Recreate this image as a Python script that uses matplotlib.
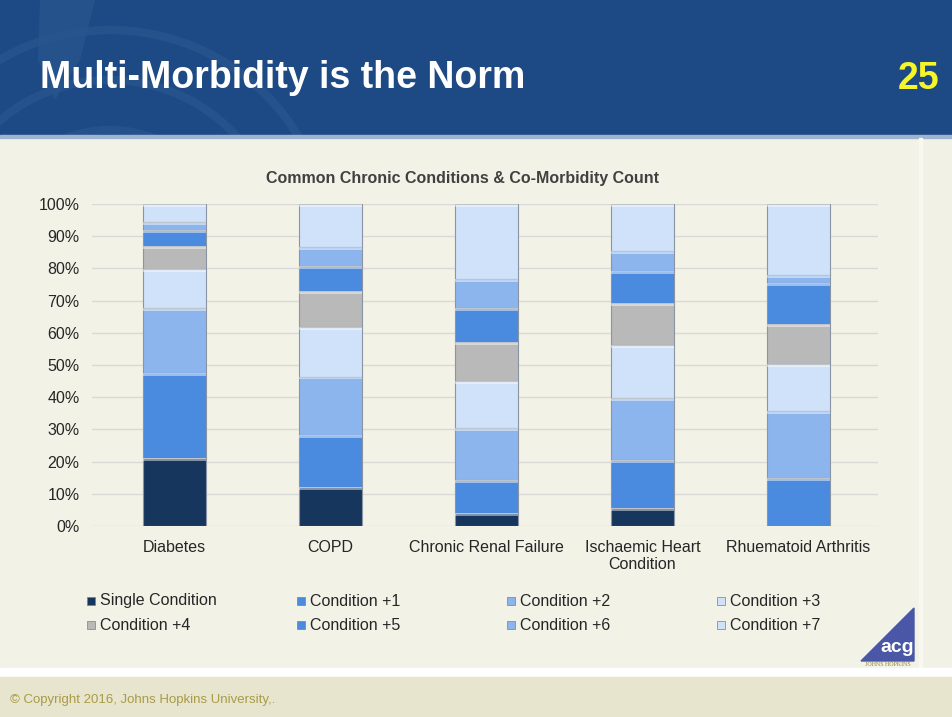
import matplotlib.pyplot as plt
from matplotlib.patches import Rectangle, Polygon, Arc
import numpy as np

plt.rcParams['font.family'] = ['Liberation Sans', 'DejaVu Sans']

# Data (percent of patients)
conditions = ["Diabetes", "COPD", "Chronic Renal Failure",
              "Ischaemic Heart\nCondition", "Rhuematoid Arthritis"]
series_names = ["Single Condition", "Condition +1", "Condition +2", "Condition +3",
                "Condition +4", "Condition +5", "Condition +6", "Condition +7"]
single = [21.0, 12.2, 3.9, 5.5, 0.0]
plus1 = [26.4, 16.1, 10.4, 15.0, 15.0]
plus2 = [20.2, 18.1, 16.2, 19.2, 20.7]
plus3 = [12.2, 15.5, 14.5, 16.5, 14.5]
plus4 = [7.2, 11.1, 12.2, 13.0, 12.4]
plus5 = [4.9, 7.8, 10.4, 10.0, 12.8]
plus6 = [2.6, 5.9, 9.1, 6.2, 2.5]
plus7 = [5.5, 13.3, 23.3, 14.6, 22.1]
y_ticks = [0, 10, 20, 30, 40, 50, 60, 70, 80, 90, 100]

series = [single, plus1, plus2, plus3, plus4, plus5, plus6, plus7]
colors = ["#17365D", "#4A8ADF", "#8CB5EE", "#CFE2FA",
          "#B9B9B9", "#4A8ADF", "#8CB5EE", "#CFE2FA"]

W, H = 953, 717
fig = plt.figure(figsize=(W / 100, H / 100), dpi=100)
fig.patch.set_facecolor("#F2F1E5")

# slide background elements (pixel coordinates)
bg = fig.add_axes([0, 0, 1, 1])
bg.set_xlim(0, W)
bg.set_ylim(H, 0)
bg.axis("off")
header = Rectangle((0, 0), W, 135, color="#1D4A84", zorder=1)
bg.add_patch(header)
# faint globe watermark in the header
for r in [120, 170, 220]:
    a = Arc((110, 250), 2 * r, 2 * r, color="#2A5690", lw=6, alpha=0.7, zorder=1.5)
    bg.add_patch(a)
    a.set_clip_path(header)
flame = Polygon([[40, 0], [95, 0], [80, 60], [55, 100], [38, 60]], closed=True,
                color="#2A5690", alpha=0.7, zorder=1.5, lw=0)
bg.add_patch(flame)
bg.add_patch(Rectangle((0, 135), W, 3, color="#9DB3CF", zorder=2))
bg.add_patch(Rectangle((0, 138), 920, 530, color="#F3F2E7", zorder=1))
bg.add_patch(Rectangle((919, 138), 3, 530, color="#F9F8F0", zorder=2))
bg.add_patch(Rectangle((0, 668), W, 9, color="#FFFFFF", zorder=2))
bg.add_patch(Rectangle((0, 677), W, 40, color="#E7E5CD", zorder=2))
bg.text(40, 78, "Multi-Morbidity is the Norm", color="white", fontsize=27,
        fontweight="bold", va="center", ha="left", zorder=3)
bg.text(939, 79, "25", color="#F5F52A", fontsize=27, fontweight="bold",
        va="center", ha="right", zorder=3)
bg.text(10, 700, "\u00a9 Copyright 2016, Johns Hopkins University,.", color="#A99B47",
        fontsize=9.5, va="center", ha="left", zorder=3)

# acg logo
bg.add_patch(Polygon([[861, 661], [914, 608], [914, 661]], closed=True,
                     color="#4957A6", zorder=3))
bg.text(897, 647, "acg", color="white", fontsize=14, fontweight="bold",
        ha="center", va="center", zorder=4)
bg.text(888, 664, "JOHNS HOPKINS", color="#8C7F45", fontsize=4.3,
        ha="center", va="center", family="Liberation Serif", zorder=4)

bg.text(463, 179, "Common Chronic Conditions & Co-Morbidity Count", color="#404040",
        fontsize=11.5, fontweight="bold", ha="center", va="center", zorder=3)

# legend drawn manually in a 4 x 2 grid
for i, (name, c) in enumerate(zip(series_names, colors)):
    lx = 90 + 210 * (i % 4)
    ly = 601 + 24 * (i // 4)
    bg.add_patch(Rectangle((lx - 3, ly - 4), 8, 8, facecolor=c,
                           edgecolor="#7F7F7F", lw=0.5, zorder=3))
    bg.text(lx + 10, ly, name, fontsize=11.5, color="#262626", va="center", ha="left",
            zorder=3)

# chart axes
ax = fig.add_axes([92 / W, (H - 526) / H, (878 - 92) / W, (526 - 204) / H])
ax.set_facecolor("none")
x = np.arange(len(conditions))
bottom = np.zeros(len(conditions))
for vals, c in zip(series, colors):
    vals = np.array(vals)
    ax.bar(x, vals, 0.4, bottom=bottom, color=c, edgecolor="#8A94A2",
           linewidth=0.8, zorder=3)
    # bevel highlight at top of each segment
    hl = np.minimum(vals, 0.9)
    ax.bar(x, hl, 0.4, bottom=bottom + vals - hl, color="white", alpha=0.45,
           linewidth=0, zorder=4)
    bottom += vals

ax.set_xlim(-0.53, 4.51)
ax.set_ylim(0, 100)
ax.set_yticks(y_ticks)
ax.set_yticklabels([f"{v}%" for v in y_ticks])
ax.set_xticks(x)
ax.set_xticklabels(conditions)
ax.grid(axis="y", color="#D9D9D9", linewidth=1, zorder=0)
ax.tick_params(axis="both", length=0, labelsize=11.5, colors="#262626")
ax.tick_params(axis="y", pad=9)
ax.tick_params(axis="x", pad=10)
for s in ax.spines.values():
    s.set_visible(False)

fig.savefig("out.png", dpi=100, facecolor=fig.get_facecolor())
